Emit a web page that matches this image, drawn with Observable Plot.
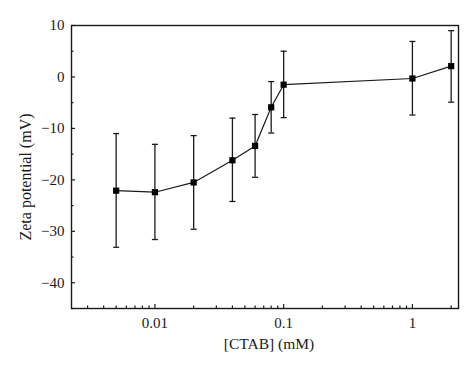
<!DOCTYPE html>
<html>
<head>
<meta charset="utf-8">
<script src="https://cdn.jsdelivr.net/npm/d3@7"></script>
<script src="https://cdn.jsdelivr.net/npm/@observablehq/plot@0.6"></script>
<style>
  html, body { margin: 0; padding: 0; background: #fff; }
  svg { display: block; }
</style>
</head>
<body>
<div id="chart"></div>
<script>
const ctab = [0.005, 0.01, 0.02, 0.04, 0.06, 0.08, 0.1, 1, 2];
const zeta = [-22.1, -22.4, -20.5, -16.2, -13.4, -5.9, -1.5, -0.3, 2.1];
const errHi = [-11.0, -13.1, -11.4, -8.0, -7.3, -0.9, 5.0, 6.9, 9.0];
const errLo = [-33.1, -31.6, -29.6, -24.2, -19.5, -10.9, -7.9, -7.4, -4.9];

const xMajor = [0.01, 0.1, 1];
const xMinor = [0.003, 0.004, 0.005, 0.006, 0.007, 0.008, 0.009,
                0.02, 0.03, 0.04, 0.05, 0.06, 0.07, 0.08, 0.09,
                0.2, 0.3, 0.4, 0.5, 0.6, 0.7, 0.8, 0.9, 2];
const yMajor = [-40, -30, -20, -10, 0, 10];
const yMinor = [-45, -35, -25, -15, -5, 5];
const xLabel = "[CTAB] (mM)";
const yLabel = "Zeta potential (mV)";

const data = ctab.map((c, i) => ({c, z: zeta[i], hi: errHi[i], lo: errLo[i]}));

const cap = {draw(ctx) { ctx.moveTo(-3, 0); ctx.lineTo(3, 0); }};
const ink = "#1a1a1a";

const chart = Plot.plot({
  width: 474,
  height: 370,
  marginLeft: 71,
  marginTop: 25,
  marginRight: 16,
  marginBottom: 62,
  style: {fontFamily: "'Liberation Serif', 'Times New Roman', serif", fontSize: "15px", color: ink, background: "#fff"},
  x: {type: "log", domain: [0.00225, 2.28]},
  y: {domain: [-45, 10]},
  marks: [
    Plot.axisX(xMajor, {tickSize: 0, tickPadding: 9, tickFormat: d => String(d), label: null, fontSize: 15}),
    Plot.axisX(xMajor, {tickSize: -4, fill: "none", label: null, strokeWidth: 1.2}),
    Plot.axisX(xMinor, {tickSize: -2.5, fill: "none", label: null, strokeWidth: 1.2}),
    Plot.axisY(yMajor, {tickSize: 0, tickPadding: 7, label: null, fontSize: 15}),
    Plot.axisY(yMajor, {tickSize: -4, fill: "none", label: null, strokeWidth: 1.2}),
    Plot.axisY(yMinor, {tickSize: -2.5, fill: "none", label: null, strokeWidth: 1.2}),
    Plot.text([xLabel], {frameAnchor: "bottom", textAnchor: "middle", lineAnchor: "middle", dx: 4, dy: 36, fontSize: 15.5, fill: ink}),
    Plot.text([yLabel], {frameAnchor: "left", textAnchor: "middle", lineAnchor: "middle", rotate: -90, dx: -46, dy: 10, fontSize: 16, fill: ink}),
    Plot.frame({stroke: ink, strokeWidth: 1.4}),
    Plot.ruleX(data, {x: "c", y1: "lo", y2: "hi", stroke: ink, strokeWidth: 1.3}),
    Plot.dot(data, {x: "c", y: "hi", symbol: cap, stroke: ink, fill: "none", strokeWidth: 1.3}),
    Plot.dot(data, {x: "c", y: "lo", symbol: cap, stroke: ink, fill: "none", strokeWidth: 1.3}),
    Plot.line(data, {x: "c", y: "z", stroke: ink, strokeWidth: 1.2}),
    Plot.dot(data, {x: "c", y: "z", symbol: "square", r: 3.5, fill: "#000", stroke: "none"})
  ]
});
document.getElementById("chart").appendChild(chart);
</script>
</body>
</html>
